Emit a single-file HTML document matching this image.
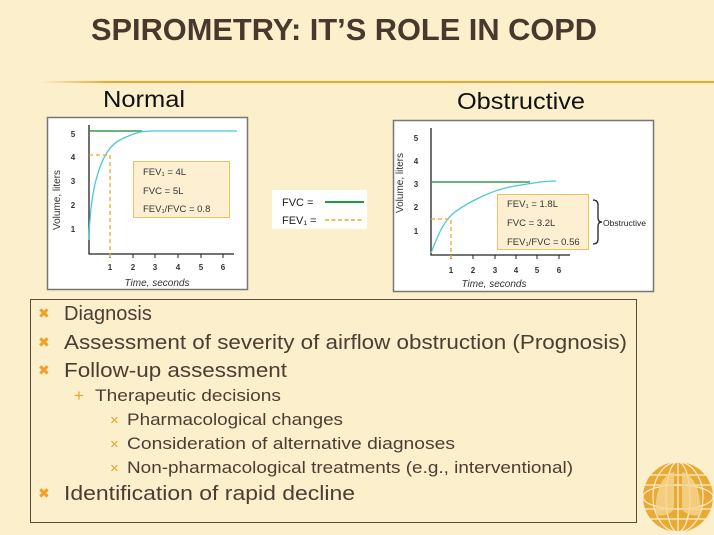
<!DOCTYPE html>
<html><head><meta charset="utf-8"><style>
html,body{margin:0;padding:0;background:#fcefcc;}
svg{display:block;}
text{font-family:"Liberation Sans",sans-serif;}
</style></head><body>
<svg width="714" height="535" viewBox="0 0 714 535" xmlns="http://www.w3.org/2000/svg">
<defs>
<linearGradient id="ol" x1="0" x2="1"><stop offset="0" stop-color="#f3a52a" stop-opacity="0"/><stop offset="0.1" stop-color="#f3a52a"/><stop offset="1" stop-color="#f3a52a"/></linearGradient>
</defs>
<rect width="714" height="535" fill="#fcefcc"/>
<text x="91" y="40" font-size="31" font-weight="bold" fill="#4a382c" textLength="506" lengthAdjust="spacingAndGlyphs">SPIROMETRY: IT’S ROLE IN COPD</text>
<rect x="40" y="81" width="674" height="2" fill="url(#ol)"/>
<text x="103" y="107" font-size="23" fill="#111" textLength="82" lengthAdjust="spacingAndGlyphs">Normal</text>
<text x="457" y="109" font-size="23" fill="#111" textLength="128" lengthAdjust="spacingAndGlyphs">Obstructive</text>

<!-- Normal chart -->
<rect x="47.5" y="117.5" width="200" height="172" fill="#fff" stroke="#777" stroke-width="1.5"/>
<g font-size="8" font-weight="bold" fill="#333" text-anchor="middle">
<text x="73" y="137">5</text><text x="73" y="160">4</text><text x="73" y="184">3</text><text x="73" y="208">2</text><text x="73" y="232">1</text>
<text x="110" y="270">1</text><text x="133" y="270">2</text><text x="155" y="270">3</text><text x="178" y="270">4</text><text x="201" y="270">5</text><text x="223" y="270">6</text>
</g>
<text transform="translate(60,200) rotate(-90)" font-size="10" fill="#333" text-anchor="middle">Volume, liters</text>
<text x="157" y="286" font-size="10" font-style="italic" fill="#333" text-anchor="middle">Time, seconds</text>
<path d="M89 125V254H234" fill="none" stroke="#222" stroke-width="1.3"/>
<g stroke="#222" stroke-width="1"><path d="M110 254v4M133 254v4M155 254v4M178 254v4M201 254v4M223 254v4"/></g>
<line x1="89" y1="131" x2="142" y2="131" stroke="#3a9a4a" stroke-width="1.5"/>
<path d="M89 240C90 190 100 150 120 140S145 131 160 131H237" fill="none" stroke="#4cc6dc" stroke-width="1.3"/>
<path d="M89 155H110V258" fill="none" stroke="#f0a820" stroke-width="1.3" stroke-dasharray="4,3"/>
<rect x="133.5" y="161.5" width="96" height="56" fill="#fdf0d2" stroke="#f0c060"/>
<g font-size="9.5" fill="#333"><text x="143" y="175">FEV₁ = 4L</text><text x="143" y="194">FVC = 5L</text><text x="143" y="212">FEV₁/FVC = 0.8</text></g>

<!-- Legend -->
<rect x="272" y="190" width="95" height="39" fill="#fff"/>
<g font-size="11" fill="#222"><text x="282" y="206">FVC =</text><text x="282" y="224">FEV₁ =</text></g>
<line x1="325" y1="202" x2="364" y2="202" stroke="#1e9a40" stroke-width="2"/>
<line x1="325" y1="220" x2="364" y2="220" stroke="#f0a820" stroke-width="1.5" stroke-dasharray="4,2.5"/>

<!-- Obstructive chart -->
<rect x="393.5" y="120.5" width="260" height="171" fill="#fff" stroke="#777" stroke-width="1.5"/>
<g font-size="8" font-weight="bold" fill="#333" text-anchor="middle">
<text x="416" y="141">5</text><text x="416" y="164">4</text><text x="416" y="187">3</text><text x="416" y="210">2</text><text x="416" y="234">1</text>
<text x="451" y="273">1</text><text x="473" y="273">2</text><text x="495" y="273">3</text><text x="516" y="273">4</text><text x="537" y="273">5</text><text x="559" y="273">6</text>
</g>
<text transform="translate(403,183) rotate(-90)" font-size="10" fill="#333" text-anchor="middle">Volume, liters</text>
<text x="494" y="287" font-size="10" font-style="italic" fill="#333" text-anchor="middle">Time, seconds</text>
<path d="M431 128V255H570" fill="none" stroke="#222" stroke-width="1.3"/>
<g stroke="#222" stroke-width="1"><path d="M451 255v4M473 255v4M495 255v4M516 255v4M537 255v4M559 255v4"/></g>
<line x1="431" y1="182" x2="530" y2="182" stroke="#3a9a4a" stroke-width="1.5"/>
<path d="M431 253C438 235 444 220 455 212S490 190 515 186S545 181 556 181" fill="none" stroke="#4cc6dc" stroke-width="1.3"/>
<path d="M431 219H451V258" fill="none" stroke="#f0a820" stroke-width="1.3" stroke-dasharray="4,3"/>
<rect x="497.5" y="194.5" width="91" height="55" fill="#fdf0d2" stroke="#f0c060"/>
<g font-size="9.5" fill="#333"><text x="507" y="207">FEV₁ = 1.8L</text><text x="507" y="226">FVC = 3.2L</text><text x="507" y="245">FEV₁/FVC = 0.56</text></g>
<path d="M593 200q5 0 5 5v13q0 4 4 4q-4 0-4 4v13q0 5-5 5" fill="none" stroke="#222" stroke-width="1.3"/>
<text x="603" y="226" font-size="8.5" fill="#222">Obstructive</text>

<!-- Bullets -->
<rect x="30.5" y="299.5" width="606" height="223" fill="none" stroke="#5a4a3a" stroke-width="1"/>
<g fill="#f0a028" font-size="14">
<text x="38" y="318" font-family="DejaVu Sans">✖</text><text x="38" y="347" font-family="DejaVu Sans">✖</text><text x="38" y="375" font-family="DejaVu Sans">✖</text><text x="38" y="498" font-family="DejaVu Sans">✖</text>
</g>
<text x="74" y="401" fill="#f0a028" font-size="17">+</text>
<g fill="#f0a028" font-size="15"><text x="110" y="425">×</text><text x="110" y="449">×</text><text x="110" y="473">×</text></g>
<g fill="#4a3e34" font-size="20">
<text x="64" y="320">Diagnosis</text>
<text x="64" y="349" textLength="563" lengthAdjust="spacingAndGlyphs">Assessment of severity of airflow obstruction (Prognosis)</text>
<text x="64" y="377" textLength="223" lengthAdjust="spacingAndGlyphs">Follow-up assessment</text>
<text x="64" y="500" textLength="291" lengthAdjust="spacingAndGlyphs">Identification of rapid decline</text>
</g>
<g fill="#4a3e34" font-size="16.5">
<text x="95" y="401" textLength="186" lengthAdjust="spacingAndGlyphs">Therapeutic decisions</text>
<text x="127" y="425" textLength="216" lengthAdjust="spacingAndGlyphs">Pharmacological changes</text>
<text x="127" y="449" textLength="328" lengthAdjust="spacingAndGlyphs">Consideration of  alternative diagnoses</text>
<text x="127" y="473" textLength="446" lengthAdjust="spacingAndGlyphs">Non-pharmacological treatments (e.g., interventional)</text>
</g>

<!-- Logo -->
<g transform="translate(678,497)">
<circle r="35" fill="#e9a935"/>
<g fill="none" stroke="#fff5dc" stroke-width="1.2" opacity="0.9">
<ellipse rx="35" ry="12"/><ellipse rx="12" ry="35"/><ellipse rx="25" ry="35"/>
<path d="M-33 -12H33M-33 12H33M-28 -22H28M-28 22H28M0 -35V35"/>
</g>
<path d="M-4 -25C-18 -22 -24 0 -22 18C-14 20 -6 16 -4 12Z" fill="#f6d590" opacity="0.8"/>
<path d="M4 -25C18 -22 24 0 22 18C14 20 6 16 4 12Z" fill="#f6d590" opacity="0.8"/>
</g>
</svg>
</body></html>
